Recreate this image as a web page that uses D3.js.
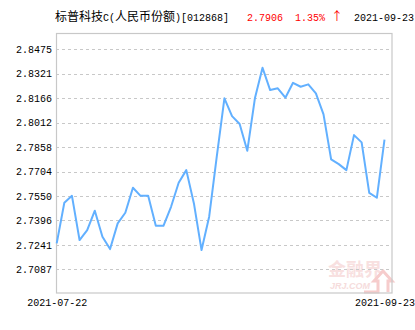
<!DOCTYPE html>
<html>
<head>
<meta charset="utf-8">
<script src="https://cdn.jsdelivr.net/npm/d3@7"></script>
<style>
  html, body { margin: 0; padding: 0; background: #fff; }
  svg { display: block; }
  .mono { font-family: "Liberation Mono", "DejaVu Sans Mono", monospace; font-size: 10px; }
  .cjk { font-family: "Noto Sans CJK SC", sans-serif; font-size: 12px; }
</style>
</head>
<body>
<div id="chart"></div>
<script>
// fund NAV, 2021-07-22 .. 2021-09-23 (trading days)
const dates = [
  '2021-07-22', '2021-07-23', '2021-07-26', '2021-07-27', '2021-07-28', '2021-07-29', '2021-07-30',
  '2021-08-02', '2021-08-03', '2021-08-04', '2021-08-05', '2021-08-06', '2021-08-09', '2021-08-10',
  '2021-08-11', '2021-08-12', '2021-08-13', '2021-08-16', '2021-08-17', '2021-08-18', '2021-08-19',
  '2021-08-20', '2021-08-23', '2021-08-24', '2021-08-25', '2021-08-26', '2021-08-27', '2021-08-30',
  '2021-08-31', '2021-09-01', '2021-09-02', '2021-09-03', '2021-09-06', '2021-09-07', '2021-09-08',
  '2021-09-09', '2021-09-10', '2021-09-13', '2021-09-14', '2021-09-15', '2021-09-16', '2021-09-17',
  '2021-09-22', '2021-09-23'
];
const nav = [
  2.7251, 2.7507, 2.7551, 2.7272, 2.7335, 2.7457, 2.7293,
  2.7215, 2.7377, 2.7444, 2.7602, 2.7551, 2.7551, 2.7362,
  2.7362, 2.7482, 2.7633, 2.7713, 2.7503, 2.7209, 2.7419,
  2.7800, 2.8166, 2.8054, 2.8004, 2.7835, 2.8166, 2.8359,
  2.8218, 2.8229, 2.8170, 2.8264, 2.8239, 2.8254, 2.8197,
  2.8065, 2.7781, 2.7751, 2.7713, 2.7934, 2.7888, 2.7570,
  2.7539, 2.7906
];
const yTicks = [2.7087, 2.7241, 2.7396, 2.7550, 2.7704, 2.7858, 2.8012, 2.8166, 2.8321, 2.8475];
const xTickLabels = ['2021-07-22', '2021-09-23'];
const yDomain = [2.6938, 2.8578];

const titleParts = [
  { t: '标普科技', cls: 'cjk' },
  { t: 'C(', cls: 'mono' },
  { t: '人民币份额', cls: 'cjk' },
  { t: ')[012868]', cls: 'mono' }
];
const lastNav = '2.7906', lastChg = '1.35%', lastDate = '2021-09-23';

const W = 415, H = 330;
const M = { top: 33, right: 23, bottom: 37, left: 56 };
const innerW = W - M.left - M.right, innerH = H - M.top - M.bottom;

const svg = d3.select('#chart').append('svg').attr('width', W).attr('height', H);

// header
const title = svg.append('text').attr('x', 55).attr('y', 21).attr('fill', '#000');
titleParts.forEach(p => title.append('tspan').attr('class', p.cls).text(p.t));
svg.append('text').attr('class', 'mono').attr('x', 247).attr('y', 21).attr('fill', '#f00').text(lastNav);
const chg = svg.append('text').attr('x', 295).attr('y', 21).attr('fill', '#f00');
chg.append('tspan').attr('class', 'mono').text(lastChg + ' ');
chg.append('tspan').attr('class', 'cjk').text('↑');
svg.append('text').attr('class', 'mono').attr('x', 354).attr('y', 21).attr('fill', '#000').text(lastDate);

const g = svg.append('g').attr('transform', `translate(${M.left},${M.top})`);

const x = d3.scalePoint().domain(dates).range([0.7, innerW - 7.5]);
const y = d3.scaleLinear().domain(yDomain).range([innerH, 0]);

// watermark
const wm = g.append('g').attr('transform', `translate(${innerW - 64},${innerH - 42})`);
wm.append('text').attr('x', 0).attr('y', 25)
  .style('font-family', '"Noto Sans CJK SC", sans-serif').style('font-weight', 700).style('font-size', '18px')
  .attr('fill', '#f8e0e0').text('金融界');
wm.append('text').attr('x', 2).attr('y', 38)
  .style('font-family', 'Arial, "Liberation Sans", sans-serif').style('font-style', 'italic')
  .style('font-weight', 700).style('font-size', '9px')
  .attr('fill', '#f6dcdc').text('JRJ.COM');
wm.append('path')
  .attr('d', 'M36,41 L50,41 L50,30 L46,30 L55,20 L64,30 L60,30 L60,41')
  .attr('fill', 'none').attr('stroke', '#f6cccc').attr('stroke-width', 3);

// grid
g.append('g').selectAll('line').data(yTicks).join('line')
  .attr('x1', 0).attr('x2', innerW)
  .attr('y1', d => Math.round(y(d)) + 0.5).attr('y2', d => Math.round(y(d)) + 0.5)
  .attr('stroke', '#c8c8c8').attr('stroke-dasharray', '3,3');

// y axis labels
g.append('g')
  .call(d3.axisLeft(y).tickValues(yTicks).tickFormat(d3.format('.4f')).tickSize(0).tickPadding(4))
  .call(a => a.select('.domain').remove())
  .selectAll('text').attr('class', 'mono').attr('fill', '#000');

// x axis labels
g.append('g').attr('transform', `translate(0,${innerH})`)
  .call(d3.axisBottom(x).tickValues(xTickLabels).tickSize(0).tickPadding(6))
  .call(a => a.select('.domain').remove())
  .selectAll('text').attr('class', 'mono').attr('fill', '#000');

// frame
g.append('rect').attr('x', 0.5).attr('y', 0.5).attr('width', innerW - 0.5).attr('height', innerH - 0.5)
  .attr('fill', 'none').attr('stroke', '#c8c8c8').attr('stroke-width', 1.2);

// nav line
const line = d3.line().x((d, i) => x(dates[i])).y(d => y(d));
g.append('path').datum(nav)
  .attr('d', line)
  .attr('fill', 'none').attr('stroke', '#62b0ff').attr('stroke-width', 2)
  .attr('stroke-linejoin', 'round');
</script>
</body>
</html>
